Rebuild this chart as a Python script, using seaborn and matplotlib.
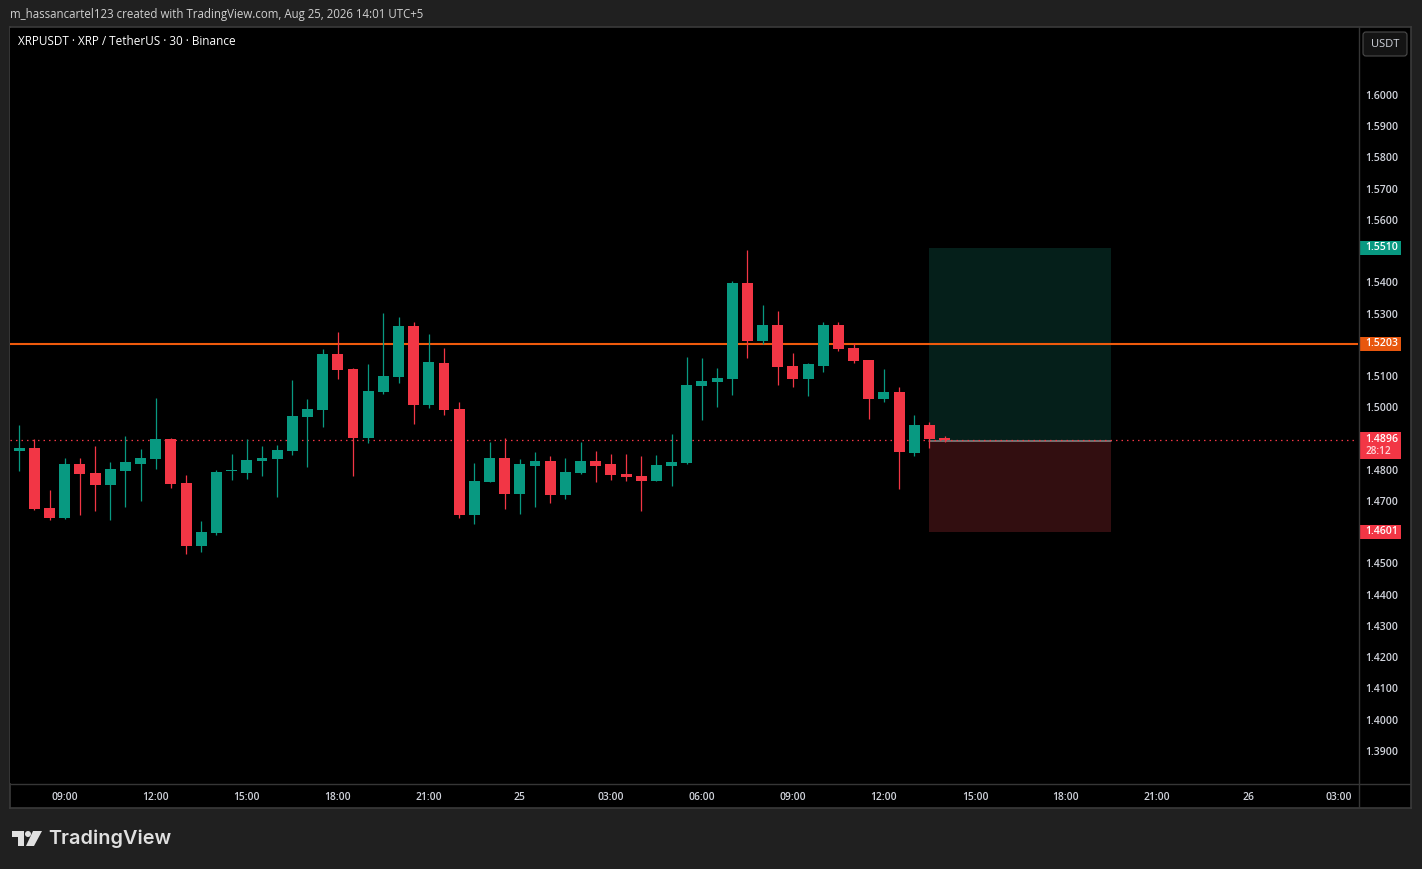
import numpy as np
import pandas as pd
import matplotlib
matplotlib.use("Agg")
import matplotlib.pyplot as plt
import seaborn as sns
from matplotlib.patches import Rectangle, FancyBboxPatch, Polygon, Circle
from matplotlib.lines import Line2D
from matplotlib.transforms import blended_transform_factory, Affine2D

# ---------------- data (30m candles, XRPUSDT) ----------------
opens = [1.4861, 1.4870, 1.4678, 1.4646, 1.4819, 1.4790, 1.4752, 1.4796, 1.4819, 1.4835,
         1.4899, 1.4758, 1.4556, 1.4598, 1.4795, 1.4790, 1.4828, 1.4835, 1.4860, 1.4969,
         1.4992, 1.5171, 1.5123, 1.4902, 1.5049, 1.5097, 1.5261, 1.5008, 1.5142, 1.4995,
         1.4656, 1.4761, 1.4838, 1.4723, 1.4812, 1.4828, 1.4720, 1.4790, 1.4828, 1.4819,
         1.4787, 1.4780, 1.4764, 1.4812, 1.4822, 1.5069, 1.5081, 1.5091, 1.5398, 1.5213,
         1.5264, 1.5133, 1.5091, 1.5133, 1.5264, 1.5190, 1.5152, 1.5027, 1.5049, 1.4854,
         1.4944, 1.4902]
highs = [1.4944, 1.4899, 1.4736, 1.4838, 1.4838, 1.4876, 1.4825, 1.4908, 1.4867, 1.5030,
         1.4902, 1.4784, 1.4636, 1.4800, 1.4851, 1.4899, 1.4876, 1.4880, 1.5088, 1.5027,
         1.5187, 1.5241, 1.5126, 1.5139, 1.5302, 1.5289, 1.5273, 1.5235, 1.5190, 1.5017,
         1.4822, 1.4889, 1.4902, 1.4835, 1.4857, 1.4844, 1.4838, 1.4889, 1.4860, 1.4851,
         1.4851, 1.4844, 1.4848, 1.4915, 1.5161, 1.5158, 1.5126, 1.5405, 1.5504, 1.5328,
         1.5309, 1.5174, 1.5142, 1.5273, 1.5273, 1.5206, 1.5152, 1.5123, 1.5065, 1.4976,
         1.4953, 1.4908]
lows = [1.4796, 1.4672, 1.4640, 1.4643, 1.4656, 1.4668, 1.4640, 1.4681, 1.4700, 1.4803,
        1.4742, 1.4531, 1.4537, 1.4592, 1.4768, 1.4771, 1.4780, 1.4713, 1.4848, 1.4809,
        1.4937, 1.5091, 1.4780, 1.4886, 1.5043, 1.5078, 1.4947, 1.4998, 1.4976, 1.4646,
        1.4627, 1.4760, 1.4675, 1.4659, 1.4681, 1.4694, 1.4707, 1.4787, 1.4761, 1.4768,
        1.4764, 1.4668, 1.4763, 1.4748, 1.4819, 1.4960, 1.5001, 1.5040, 1.5158, 1.5203,
        1.5072, 1.5065, 1.5036, 1.5113, 1.5181, 1.5142, 1.4963, 1.5017, 1.4739, 1.4844,
        1.4870, 1.4889]
closes = [1.4870, 1.4675, 1.4646, 1.4819, 1.4787, 1.4752, 1.4803, 1.4825, 1.4838, 1.4899,
          1.4755, 1.4556, 1.4601, 1.4793, 1.4798, 1.4832, 1.4838, 1.4864, 1.4972, 1.4995,
          1.5171, 1.5120, 1.4902, 1.5053, 1.5101, 1.5261, 1.5008, 1.5145, 1.4992, 1.4656,
          1.4764, 1.4838, 1.4723, 1.4819, 1.4828, 1.4720, 1.4793, 1.4828, 1.4812, 1.4784,
          1.4777, 1.4764, 1.4816, 1.4825, 1.5072, 1.5085, 1.5094, 1.5398, 1.5213, 1.5264,
          1.5129, 1.5091, 1.5139, 1.5264, 1.5187, 1.5149, 1.5027, 1.5049, 1.4857, 1.4944,
          1.4899, 1.4896]

time_tick_pos = [3, 9, 15, 21, 27, 33, 39, 45, 51, 57, 63, 69, 75, 81, 87]
time_tick_labels = ["09:00", "12:00", "15:00", "18:00", "21:00", "25", "03:00", "06:00",
                    "09:00", "12:00", "15:00", "18:00", "21:00", "26", "03:00"]
price_ticks = [1.39, 1.40, 1.41, 1.42, 1.43, 1.44, 1.45, 1.47, 1.48, 1.50, 1.51, 1.53,
               1.54, 1.56, 1.57, 1.58, 1.59, 1.60]

resistance = 1.5203
take_profit = 1.5510
entry = 1.4893
stop_loss = 1.4601
last_price = 1.4896
countdown = "28:12"
box_start, box_end = 60, 72

header = "m_hassancartel123 created with TradingView.com, Aug 25, 2026 14:01 UTC+5"
symbol_title = "XRPUSDT \u00b7 XRP / TetherUS \u00b7 30 \u00b7 Binance"

# ---------------- style ----------------
UP = "#089981"
DOWN = "#F23645"
ORANGE = "#EF5A0C"
BG = "#202020"
TXT = "#d1d4dc"

sns.set_theme(style="dark", rc={"figure.facecolor": BG, "axes.facecolor": "black"})
plt.rcParams["font.family"] = ["Open Sans", "DejaVu Sans"]

W, H = 1422, 869
fig = plt.figure(figsize=(W / 100, H / 100), dpi=100)
fig.patch.set_facecolor(BG)


def fr(x0, y0, x1, y1):
    return [x0 / W, 1 - y1 / H, (x1 - x0) / W, (y1 - y0) / H]


px = Affine2D().scale(1 / W, -1 / H).translate(0, 1) + fig.transFigure

# panel background
bg = fig.add_axes(fr(10, 27, 1411, 808))
bg.set_facecolor("black")
bg.set_xticks([]); bg.set_yticks([])
for s in bg.spines.values():
    s.set_color("#3a3a3a"); s.set_linewidth(1.2)
bg.set_zorder(0)

ax = fig.add_axes(fr(10, 28, 1358, 783))
ax.set_facecolor("black")
ax.set_zorder(1)
for s in ax.spines.values():
    s.set_visible(False)
ax.grid(False)

ymin, ymax = 1.3797, 1.6214
ax.set_xlim(-0.61, 88.25)
ax.set_ylim(ymin, ymax)
dpp = (ymax - ymin) / 755.0  # data per pixel

# separators
fig.add_artist(Line2D([1358.5 / W] * 2, [1 - 27 / H, 1 - 808 / H], color="#363636", lw=1))
fig.add_artist(Line2D([10 / W, 1411 / W], [1 - 783.5 / H] * 2, color="#363636", lw=1))

df = pd.DataFrame({"open": opens, "high": highs, "low": lows, "close": closes})
df["x"] = np.arange(len(df))
df["up"] = df["close"] >= df["open"]
cols = np.where(df["up"], UP, DOWN)

# position box
ax.add_patch(Rectangle((box_start, entry), box_end - box_start, take_profit - entry,
                       facecolor="#051f1a", edgecolor="none", zorder=1))
ax.add_patch(Rectangle((box_start, stop_loss), box_end - box_start, entry - stop_loss,
                       facecolor="#320e10", edgecolor="none", zorder=1))
ax.plot([box_start, box_end], [entry, entry], color="#8a8a8a", lw=1.1, zorder=2)

# resistance line and last price line
ax.axhline(resistance, color=ORANGE, lw=1.5, zorder=2)
ax.axhline(last_price, color=DOWN, lw=0.9, ls=(0, (1.2, 3.2)), zorder=2)

# candles
ax.vlines(df["x"], df["low"], df["high"], colors=cols, lw=0.9, zorder=3)
body_bottom = np.minimum(df["open"], df["close"])
body_h = np.maximum(np.abs(df["close"] - df["open"]), dpp * 1.2)
ax.bar(df["x"], body_h, bottom=body_bottom, width=0.72, color=cols, linewidth=0, zorder=4)

# axes ticks
ax.yaxis.tick_right()
ax.set_yticks(price_ticks)
ax.set_yticklabels([f"{v:.4f}" for v in price_ticks])
ax.set_xticks(time_tick_pos)
ax.set_xticklabels(time_tick_labels)
ax.tick_params(axis="y", length=0, pad=5.5, labelsize=7.6, labelcolor=TXT, right=True, left=False)
ax.tick_params(axis="x", length=0, pad=6.2, labelsize=7.4, labelcolor=TXT)
for t in ax.get_yticklabels() + ax.get_xticklabels():
    t.set_fontweight("semibold")

# price tags
bt = blended_transform_factory(fig.transFigure, ax.transData)
def tag(price, color, text, h_px=14.5, sub=None):
    if sub is None:
        ax.add_patch(Rectangle((1359 / W, price - h_px / 2 * dpp), 42 / W, h_px * dpp,
                               transform=bt, facecolor=color, edgecolor="none",
                               clip_on=False, zorder=6))
        ax.text(1382 / W, price, text, transform=bt, ha="center", va="center",
                color="white", fontsize=7.6, fontweight="semibold", clip_on=False, zorder=7)
    else:
        top = price + 7.5 * dpp
        ax.add_patch(Rectangle((1359 / W, top - 27 * dpp), 42 / W, 27 * dpp,
                               transform=bt, facecolor=color, edgecolor="none",
                               clip_on=False, zorder=6))
        ax.text(1382 / W, price, text, transform=bt, ha="center", va="center",
                color="white", fontsize=7.6, fontweight="semibold", clip_on=False, zorder=7)
        ax.text(1378 / W, price - 12 * dpp, sub, transform=bt, ha="center", va="center",
                color="#ffd6da", fontsize=7.2, fontweight="semibold", clip_on=False, zorder=7)

tag(take_profit, UP, f"{take_profit:.4f}")
tag(resistance, "#E8570E", f"{resistance:.4f}")
tag(last_price, DOWN, f"{last_price:.4f}", sub=countdown)
tag(stop_loss, DOWN, f"{stop_loss:.4f}")

# USDT button
fig.add_artist(FancyBboxPatch((1363, 32), 44, 24, boxstyle="round,pad=0,rounding_size=3",
                              transform=px, facecolor="#141414", edgecolor="#4a4a4a", lw=0.8))
fig.text(1385 / W, 1 - 44.5 / H, "USDT", ha="center", va="center", color=TXT, fontsize=8)

# header texts
fig.text(10 / W, 1 - 14.5 / H, header, ha="left", va="center", color="#d0d0d0", fontsize=8.3)
fig.text(18 / W, 1 - 41.5 / H, symbol_title, ha="left", va="center", color="white", fontsize=8.5)

# TradingView logo
fig.add_artist(Polygon([(12, 831), (24, 831), (24, 846), (18, 846), (18, 837), (12, 837)],
                       closed=True, transform=px, facecolor="#e0e0e0", edgecolor="none"))
fig.add_artist(Circle((28, 834), 3, transform=px, facecolor="#e0e0e0", edgecolor="none"))
fig.add_artist(Polygon([(33, 831), (42, 831), (34, 846), (26, 846)],
                       closed=True, transform=px, facecolor="#e0e0e0", edgecolor="none"))
fig.text(48 / W, 1 - 839 / H, "TradingView", ha="left", va="center", color="#e0e0e0",
         fontsize=14.3, fontweight="semibold", family=["Inter", "DejaVu Sans"])

fig.savefig("out.png", dpi=100, facecolor=BG)
